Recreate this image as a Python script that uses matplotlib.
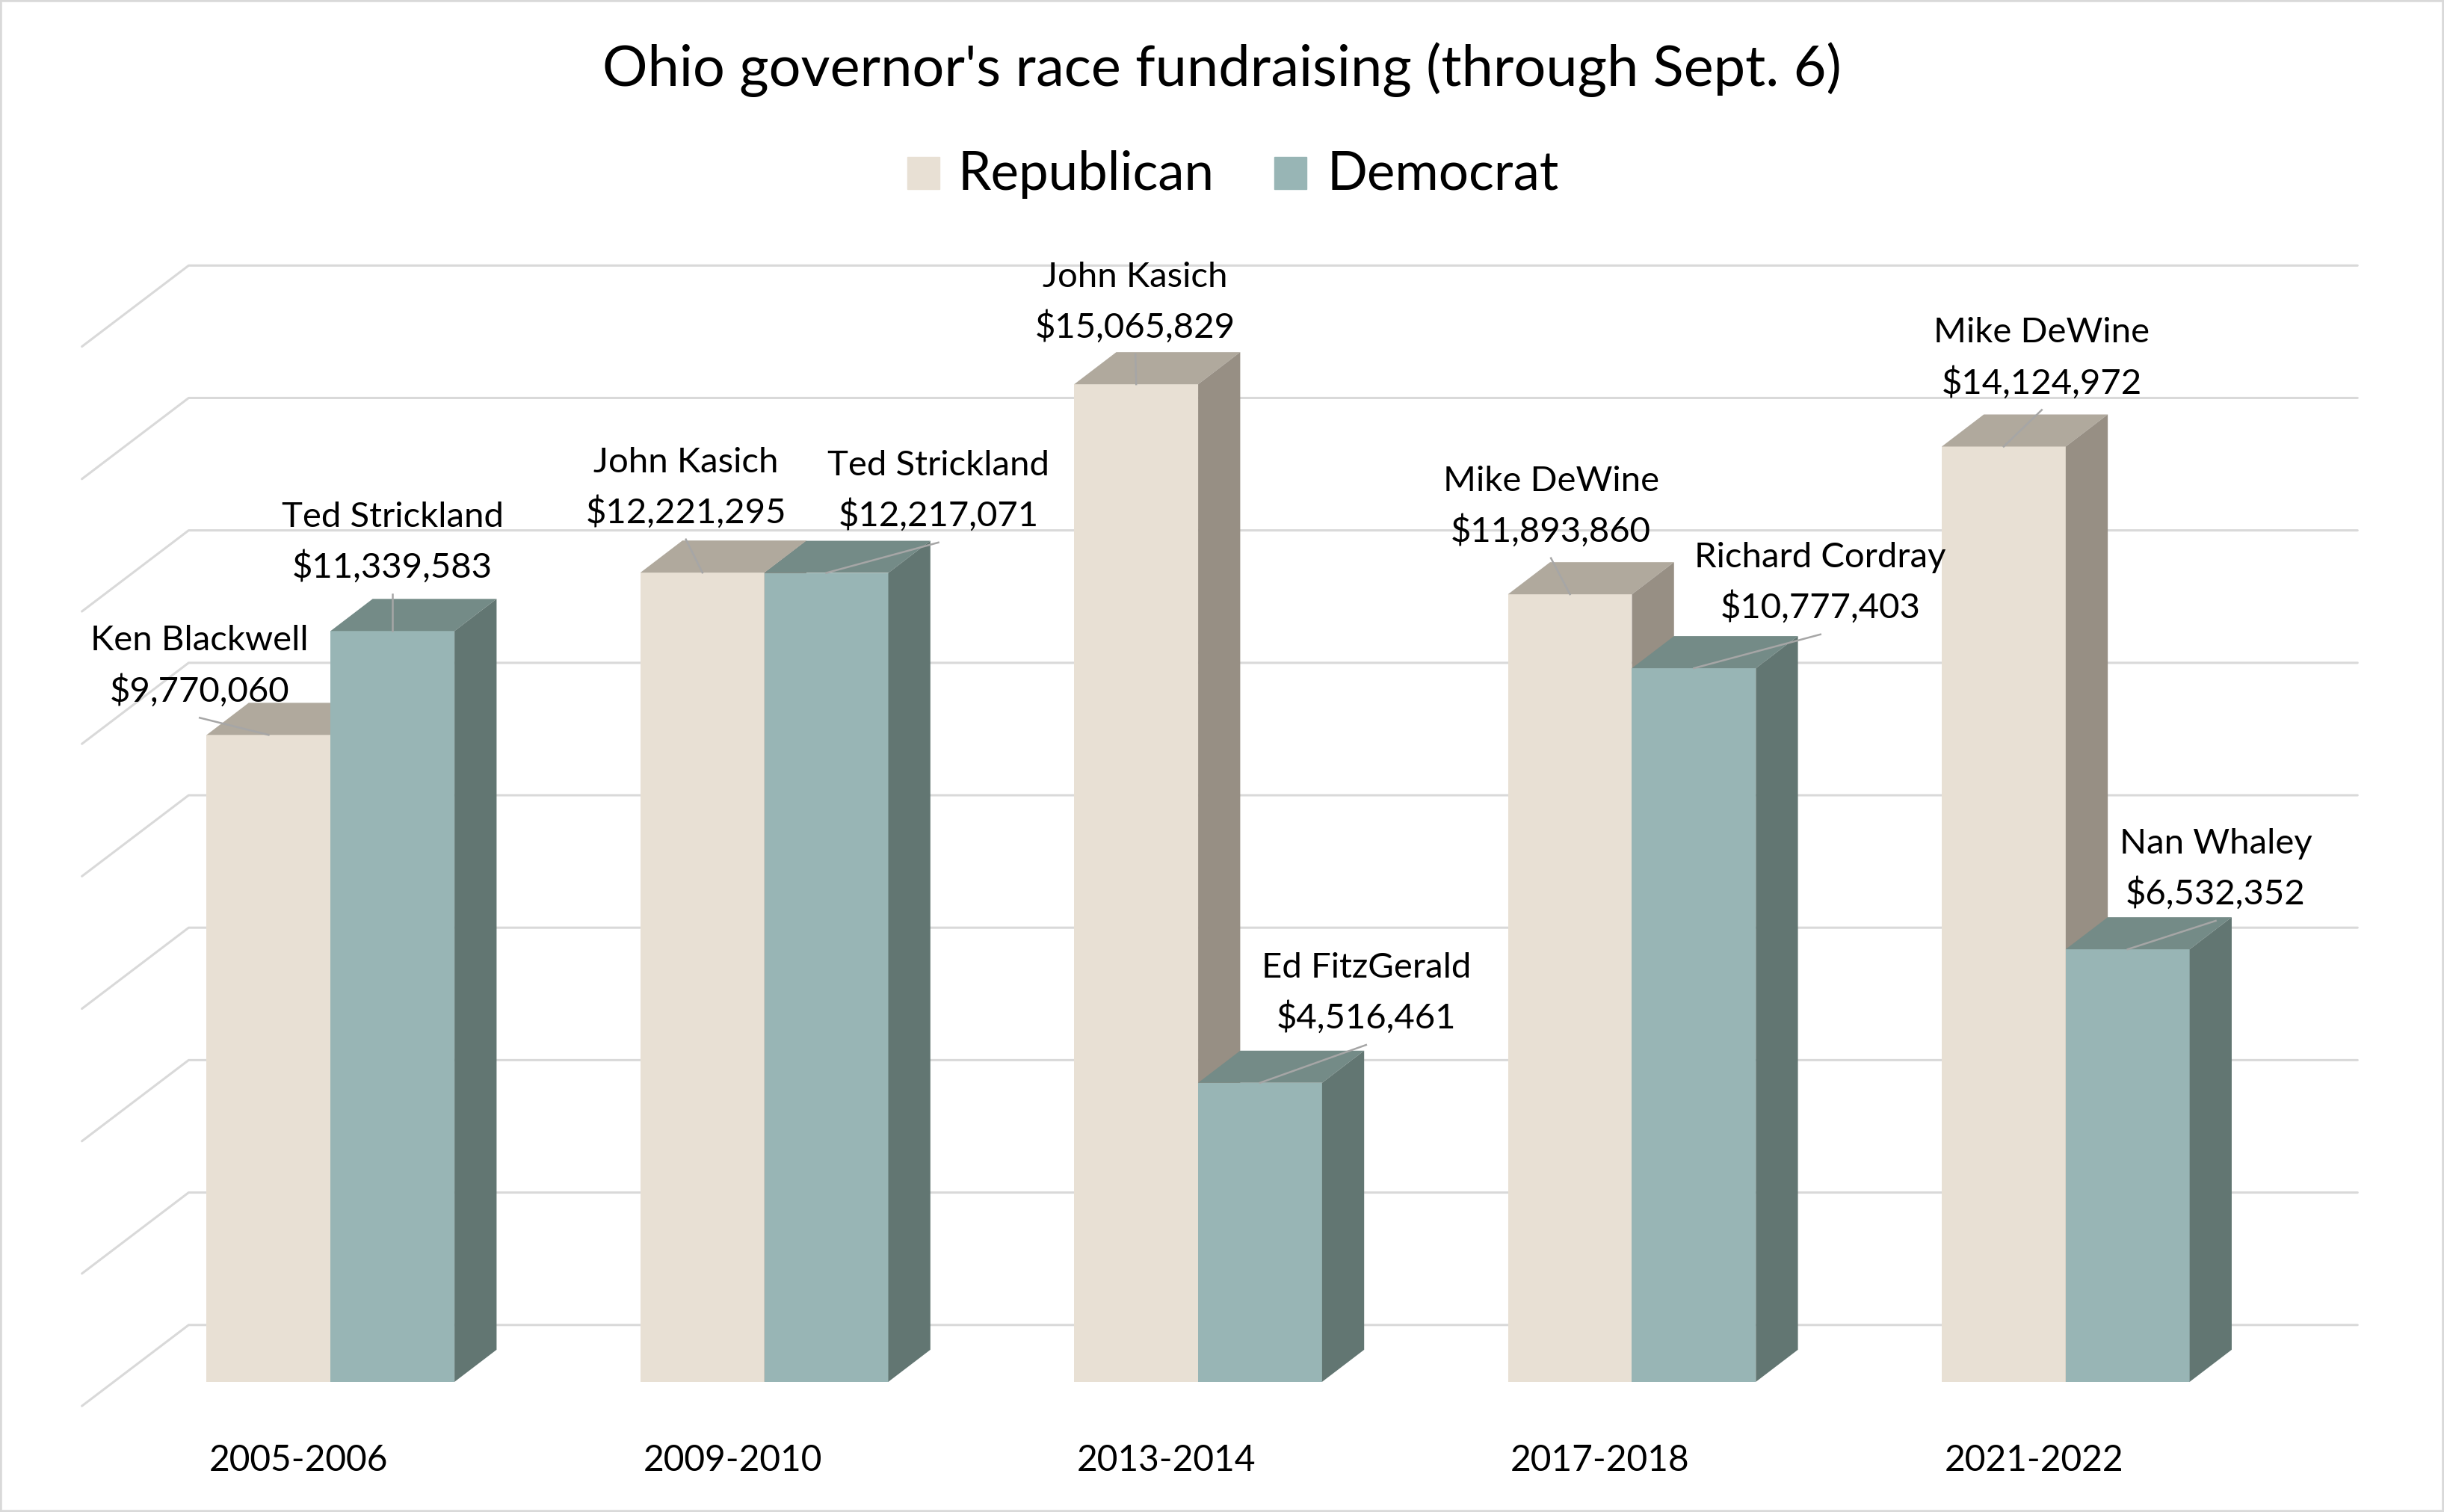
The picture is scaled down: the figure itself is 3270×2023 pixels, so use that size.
import matplotlib
matplotlib.use('Agg')
import matplotlib.pyplot as plt
from matplotlib.patches import Rectangle
import numpy as np

plt.rcParams['font.family'] = ['Lato', 'DejaVu Sans']

periods = ['2005-2006', '2009-2010', '2013-2014', '2017-2018', '2021-2022']
rep_names = ['Ken Blackwell', 'John Kasich', 'John Kasich', 'Mike DeWine', 'Mike DeWine']
rep_money = [9770060, 12221295, 15065829, 11893860, 14124972]
dem_names = ['Ted Strickland', 'Ted Strickland', 'Ed FitzGerald', 'Richard Cordray', 'Nan Whaley']
dem_money = [11339583, 12217071, 4516461, 10777403, 6532352]
y_ticks = np.arange(0, 17, 2)  # millions

# front, top, side colours
rep_colors = ('#E8E0D4', '#B0A99D', '#978F84')
dem_colors = ('#98B5B5', '#748B87', '#627672')
grid_color = '#D9D9D9'
lead_color = '#A6A6A6'

# fake 3d geometry (category units / millions)
bar_w = 0.2857
bar_dx, bar_dy = 0.097, 0.485
wall_dx, wall_dy = 0.1728, 0.859
floor_dx, floor_dy = -0.0733, -0.365
x_min, x_max = -0.5, 4.5

# label offsets from top of bar, in reference pixels (1568 wide)
rep_lab_off = [(-44.2, -21.5), (-10.6, -31.8), (-0.5, -29.9), (-12.2, -33.7), (24.4, -34.0)]
dem_lab_off = [(0.0, -34.3), (71.9, -30.0), (68.0, -34.8), (81.2, -32.2), (56.5, -28.8)]
px_x, px_y = 278.3, 42.48

fig = plt.figure(figsize=(32.7, 20.23), dpi=100)
ax = fig.add_axes([0, 0, 1, 1])
ax.set_xlim(-0.7621, 4.8721)
ax.set_ylim(-1.9656, 20.869)
ax.axis('off')

# gridlines on side and back wall
for t in y_ticks:
    ax.plot([x_min + floor_dx, x_min + wall_dx, x_max + wall_dx],
            [t + floor_dy, t + wall_dy, t + wall_dy],
            color=grid_color, lw=2.2, solid_capstyle='round', zorder=1)

x = np.arange(len(periods))


def draw_bars(left, vals, colors, z):
    ax.bar(left, vals, width=bar_w, align='edge', color=colors[0], lw=0, zorder=z)
    for xl, v in zip(left, vals):
        xr = xl + bar_w
        ax.fill([xl, xl + bar_dx, xr + bar_dx, xr], [v, v + bar_dy, v + bar_dy, v],
                color=colors[1], lw=0, zorder=z)
        ax.fill([xr, xr, xr + bar_dx, xr + bar_dx], [0, v, v + bar_dy, bar_dy],
                color=colors[2], lw=0, zorder=z)


rep_v = np.array(rep_money) / 1e6
dem_v = np.array(dem_money) / 1e6
draw_bars(x - bar_w, rep_v, rep_colors, 2)
draw_bars(x, dem_v, dem_colors, 3)


def draw_labels(centers, vals, names, money, offs):
    for xc, v, n, m, (dx, dy) in zip(centers, vals, names, money, offs):
        lx = xc + dx / px_x
        base = v - dy / px_y
        ax.text(lx, base, '${:,}'.format(m), ha='center', va='baseline', fontsize=34, zorder=11)
        ax.text(lx, base + 32.7 / px_y, n, ha='center', va='baseline', fontsize=34, zorder=11)
        ax.plot([lx, xc], [base - 10.5 / px_y, v], color=lead_color, lw=1.8, zorder=10)


draw_labels(x - bar_w / 2, rep_v, rep_names, rep_money, rep_lab_off)
draw_labels(x + bar_w / 2, dem_v, dem_names, dem_money, dem_lab_off)

for i, p in enumerate(periods):
    ax.text(i + floor_dx, -1.3466, p, ha='center', va='baseline', fontsize=34.5)

W, H = 3270, 2023
fig.text(0.5, 1 - 115 / H, "Ohio governor's race fundraising (through Sept. 6)",
         ha='center', va='baseline', fontsize=54.5)

# legend
fig.patches.append(Rectangle((1214 / W, 1 - 253 / H), 43 / W, 43 / H,
                             transform=fig.transFigure, color=rep_colors[0]))
fig.text(1281 / W, 1 - 254 / H, 'Republican', fontsize=51, va='baseline')
fig.patches.append(Rectangle((1705 / W, 1 - 253 / H), 43 / W, 43 / H,
                             transform=fig.transFigure, color=dem_colors[0]))
fig.text(1775 / W, 1 - 254 / H, 'Democrat', fontsize=51, va='baseline')

fig.patches.append(Rectangle((0, 0), 1, 1, transform=fig.transFigure,
                             fill=False, edgecolor='#D9D9D9', lw=4))

fig.savefig('out.png', dpi=100)
